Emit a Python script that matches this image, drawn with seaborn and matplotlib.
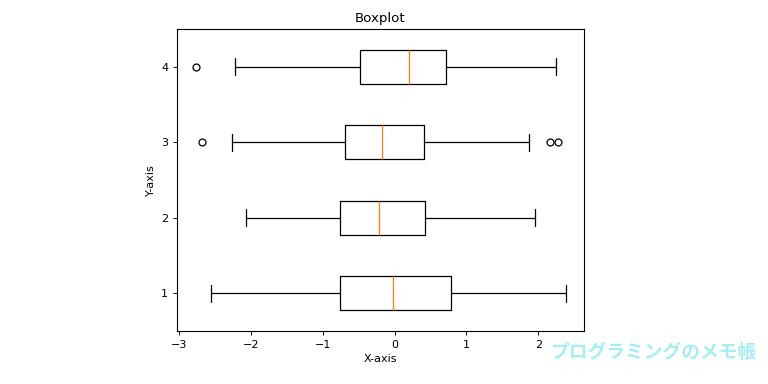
import matplotlib
matplotlib.use("Agg")
import matplotlib.pyplot as plt
import seaborn as sns

# Summary statistics, one entry per box (positions 1..4)
positions = [1, 2, 3, 4]
whisker_low = [-2.56, -2.07, -2.26, -2.22]
q1 = [-0.76, -0.76, -0.69, -0.48]
medians = [-0.02, -0.21, -0.17, 0.20]
q3 = [0.78, 0.42, 0.41, 0.72]
whisker_high = [2.38, 1.95, 1.87, 2.25]
fliers = [[], [], [-2.68, 2.17, 2.27], [-2.77]]

title = "Boxplot"
x_label = "X-axis"
y_label = "Y-axis"
watermark = "プログラミングのメモ帳"

sns.set_theme(
    style="ticks",
    rc={
        "axes.edgecolor": "black",
        "axes.linewidth": 0.8,
        "xtick.color": "black",
        "ytick.color": "black",
        "text.color": "black",
        "axes.labelcolor": "black",
        "xtick.major.size": 2.8,
        "ytick.major.size": 2.8,
        "xtick.major.width": 0.65,
        "ytick.major.width": 0.65,
        "xtick.labelsize": 8,
        "ytick.labelsize": 8,
        "axes.labelsize": 8,
        "axes.titlesize": 9.6,
    },
)
plt.rcParams["font.family"] = ["DejaVu Sans", "Noto Sans CJK JP"]

stats = [
    {
        "whislo": lo, "q1": a, "med": m, "q3": b, "whishi": hi, "fliers": fl,
    }
    for lo, a, m, b, hi, fl in zip(whisker_low, q1, medians, q3, whisker_high, fliers)
]

fig = plt.figure(figsize=(7.68, 3.84), dpi=100)
ax = fig.add_axes([0.2305, 0.138, 0.530, 0.786])

ax.bxp(
    stats,
    positions=positions,
    widths=0.45,
    vert=False,
    boxprops={"color": "black", "linewidth": 0.9},
    whiskerprops={"color": "black", "linewidth": 0.9},
    capprops={"color": "black", "linewidth": 0.9},
    medianprops={"color": "#ff7f0e", "linewidth": 0.9},
    flierprops={"marker": "o", "markerfacecolor": "none", "markeredgecolor": "black",
                "markersize": 5, "markeredgewidth": 0.9},
)
ax.margins(x=0.05)
ax.set_ylim(0.5, 4.5)

ax.set_title(title, pad=5)
ax.set_xlabel(x_label, labelpad=3)
ax.set_ylabel(y_label, labelpad=4)

fig.text(0.716, 0.083, watermark, color="#a6eef2", fontsize=13.5,
         fontweight="bold", family=["Noto Sans CJK JP"], va="center", ha="left")

fig.savefig("out.png", dpi=100)
